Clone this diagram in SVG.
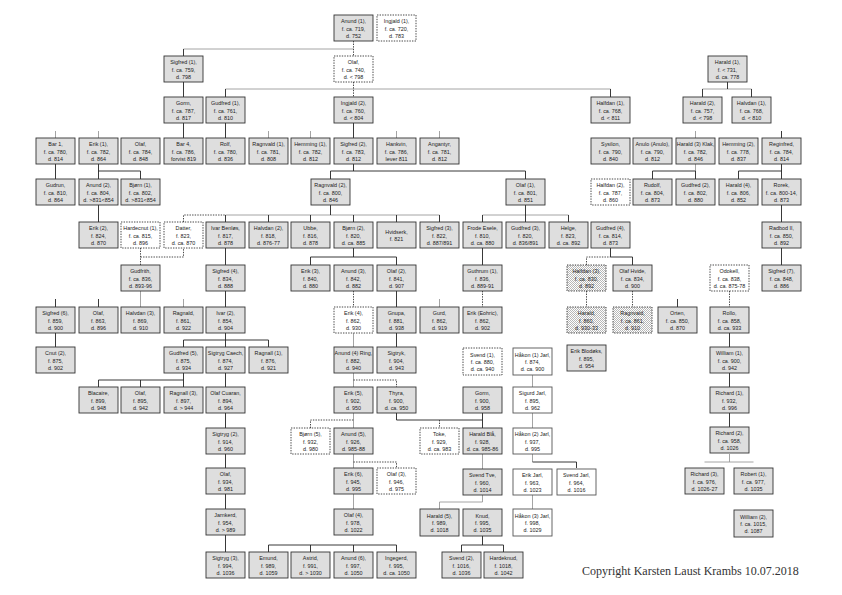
<svg xmlns="http://www.w3.org/2000/svg" width="842" height="595" viewBox="0 0 842 595">
<style>
.g{fill:#dedede;stroke:#333;stroke-width:0.9}
.w{fill:#fff;stroke:#555;stroke-width:0.9}
.d{fill:#fff;stroke:#333;stroke-width:0.9;stroke-dasharray:1.4 1.2}
.h{fill:url(#hatch);stroke:#333;stroke-width:0.9;stroke-dasharray:1.4 1.2}
text{font-family:"Liberation Sans",Arial,sans-serif;font-size:5.4px;text-anchor:middle;fill:#222}
.k{stroke:#222;stroke-width:0.9;fill:none}
.l{stroke:#9a9a9a;stroke-width:0.9;fill:none}
.o{stroke:#333;stroke-width:0.9;fill:none;stroke-dasharray:1.4 1.2}
.cp{font-family:"Liberation Serif","Times New Roman",serif;font-size:12px;text-anchor:start;fill:#333}
</style>
<defs>
<pattern id="hatch" width="2" height="2" patternUnits="userSpaceOnUse"><rect width="2" height="2" fill="#fff"/><rect width="1" height="1" fill="#b8b8b8"/><rect x="1" y="1" width="1" height="1" fill="#b8b8b8"/></pattern>
</defs>
<rect width="842" height="595" fill="#fff"/>
<g id="connectors">
<path class="l" d="M183.5 49H353.5M225.5 89H610.5M702.5 89H751.5M55.5 131V138M98.5 131V138M268.5 131V138M310.5 131V138M396.5 131V138M439.5 131V138M695.5 131V138M695.5 164V171M225.5 215H439.5M482.5 215H568.5M140.5 291V307M183.5 299V307M439.5 299V307M353.5 333V347M353.5 373V387M532.5 375V387M353.5 413V428M532.5 413V428M353.5 454V468M482.5 454V469M532.5 454V462M704.5 462H753.5M729.5 454V462M353.5 494V509M482.5 495V502M439.5 509V502H482.5M532.5 495V509"/>
<path class="k" d="M183.5 49V56M183.5 82V97M183.5 123V138M225.5 89V97M225.5 123V138M353.5 123V138M610.5 89V97M727.5 82V89M702.5 89V97M751.5 89V97M55.5 164V179M98.5 164V179M98.5 171H140.5V179M353.5 164V171M330.5 171H525.5M330.5 171V179M525.5 171V179M781.5 131V138M652.5 179V171H695.5V179M781.5 164V179M738.5 179V171H781.5M781.5 205V222M781.5 248V265M98.5 205V222M330.5 205V215M225.5 215V222M268.5 215V222M310.5 215V222M353.5 215V222M396.5 215V222M439.5 215V222M525.5 205V222M482.5 215V222M568.5 215V222M225.5 248V265M353.5 248V257M310.5 265V257H396.5V265M482.5 248V265M610.5 248V257H632.5V265M55.5 299V307M98.5 299V307M225.5 291V307M396.5 291V307M677.5 299V307M55.5 333V347M225.5 333V340M183.5 347V340H268.5V347M225.5 340V347M396.5 333V347M729.5 333V347M183.5 373V380M98.5 387V380H183.5V387M140.5 380V387M225.5 373V387M729.5 373V387M225.5 413V428M396.5 413V420H482.5M482.5 413V428M729.5 413V427M225.5 454V468M532.5 462H576.5V468M225.5 494V509M225.5 535V552M268.5 552V545H396.5V552M310.5 545V552M353.5 545V552M482.5 535V545M461.5 552V545H503.5V552"/>
<path class="o" d="M353.5 41V56M353.5 82V97M183.5 222V215H225.5M140.5 248V265M140.5 257H183.5V248M353.5 291V307M482.5 291V307M586.5 265V257H610.5M586.5 291V307M632.5 291V307M729.5 291V307M353.5 380H396.5V387M310.5 428V420H353.5M439.5 420V428M353.5 462H396.5V468"/>
</g>
<g id="n-anund1"><rect class="g" x="334" y="15" width="39" height="26"/><text y="23.2"><tspan x="353.5">Anund (1),</tspan><tspan x="353.5" dy="7.4">f. ca. 719,</tspan><tspan x="353.5" dy="7.4">d. 752</tspan></text></g>
<g id="n-ingjald1"><rect class="d" x="377" y="15" width="39" height="26"/><text y="23.2"><tspan x="396.5">Ingjald (1),</tspan><tspan x="396.5" dy="7.4">f. ca. 720,</tspan><tspan x="396.5" dy="7.4">d. 783</tspan></text></g>
<g id="n-sigfred1"><rect class="g" x="164" y="56" width="39" height="26"/><text y="64.2"><tspan x="183.5">Sigfred (1),</tspan><tspan x="183.5" dy="7.4">f. ca. 759,</tspan><tspan x="183.5" dy="7.4">d. 798</tspan></text></g>
<g id="n-olaf0"><rect class="d" x="334" y="56" width="39" height="26"/><text y="64.2"><tspan x="353.5">Olaf,</tspan><tspan x="353.5" dy="7.4">f. ca. 740,</tspan><tspan x="353.5" dy="7.4">d. &lt; 798</tspan></text></g>
<g id="n-harald1"><rect class="g" x="708" y="56" width="39" height="26"/><text y="64.2"><tspan x="727.5">Harald (1),</tspan><tspan x="727.5" dy="7.4">f. &lt; 731,</tspan><tspan x="727.5" dy="7.4">d. ca. 778</tspan></text></g>
<g id="n-gorm0"><rect class="g" x="164" y="97" width="39" height="26"/><text y="105.2"><tspan x="183.5">Gorm,</tspan><tspan x="183.5" dy="7.4">f. ca. 787,</tspan><tspan x="183.5" dy="7.4">d. 817</tspan></text></g>
<g id="n-gudfred1"><rect class="g" x="206" y="97" width="39" height="26"/><text y="105.2"><tspan x="225.5">Gudfred (1),</tspan><tspan x="225.5" dy="7.4">f. ca. 761,</tspan><tspan x="225.5" dy="7.4">d. 810</tspan></text></g>
<g id="n-ingjald2"><rect class="g" x="334" y="97" width="39" height="26"/><text y="105.2"><tspan x="353.5">Ingjald (2),</tspan><tspan x="353.5" dy="7.4">f. ca. 760,</tspan><tspan x="353.5" dy="7.4">d. &lt; 804</tspan></text></g>
<g id="n-halfdan1"><rect class="g" x="591" y="97" width="39" height="26"/><text y="105.2"><tspan x="610.5">Halfdan (1),</tspan><tspan x="610.5" dy="7.4">f. ca. 768,</tspan><tspan x="610.5" dy="7.4">d. &lt; 811</tspan></text></g>
<g id="n-harald2"><rect class="g" x="683" y="97" width="39" height="26"/><text y="105.2"><tspan x="702.5">Harald (2),</tspan><tspan x="702.5" dy="7.4">f. ca. 757,</tspan><tspan x="702.5" dy="7.4">d. &lt; 798</tspan></text></g>
<g id="n-halvdan1"><rect class="g" x="732" y="97" width="39" height="26"/><text y="105.2"><tspan x="751.5">Halvdan (1),</tspan><tspan x="751.5" dy="7.4">f. ca. 768,</tspan><tspan x="751.5" dy="7.4">d. &lt; 810</tspan></text></g>
<g id="n-bar1"><rect class="g" x="36" y="138" width="39" height="26"/><text y="146.2"><tspan x="55.5">Bar 1,</tspan><tspan x="55.5" dy="7.4">f. ca. 780,</tspan><tspan x="55.5" dy="7.4">d. 814</tspan></text></g>
<g id="n-erik1"><rect class="g" x="79" y="138" width="39" height="26"/><text y="146.2"><tspan x="98.5">Erik (1),</tspan><tspan x="98.5" dy="7.4">f. ca. 782,</tspan><tspan x="98.5" dy="7.4">d. 864</tspan></text></g>
<g id="n-olafB"><rect class="g" x="121" y="138" width="39" height="26"/><text y="146.2"><tspan x="140.5">Olaf,</tspan><tspan x="140.5" dy="7.4">f. ca. 784,</tspan><tspan x="140.5" dy="7.4">d. 848</tspan></text></g>
<g id="n-bar4"><rect class="g" x="164" y="138" width="39" height="26"/><text y="146.2"><tspan x="183.5">Bar 4,</tspan><tspan x="183.5" dy="7.4">f. ca. 786,</tspan><tspan x="183.5" dy="7.4">forvist 819</tspan></text></g>
<g id="n-rolf"><rect class="g" x="206" y="138" width="39" height="26"/><text y="146.2"><tspan x="225.5">Rolf,</tspan><tspan x="225.5" dy="7.4">f. ca. 780,</tspan><tspan x="225.5" dy="7.4">d. 836</tspan></text></g>
<g id="n-ragnvald1"><rect class="g" x="249" y="138" width="39" height="26"/><text y="146.2"><tspan x="268.5">Ragnvald (1),</tspan><tspan x="268.5" dy="7.4">f. ca. 781,</tspan><tspan x="268.5" dy="7.4">d. 808</tspan></text></g>
<g id="n-hemming1"><rect class="g" x="291" y="138" width="39" height="26"/><text y="146.2"><tspan x="310.5">Hemming (1),</tspan><tspan x="310.5" dy="7.4">f. ca. 782,</tspan><tspan x="310.5" dy="7.4">d. 812</tspan></text></g>
<g id="n-sigfred2"><rect class="g" x="334" y="138" width="39" height="26"/><text y="146.2"><tspan x="353.5">Sigfred (2),</tspan><tspan x="353.5" dy="7.4">f. ca. 783,</tspan><tspan x="353.5" dy="7.4">d. 812</tspan></text></g>
<g id="n-hankvin"><rect class="g" x="377" y="138" width="39" height="26"/><text y="146.2"><tspan x="396.5">Hankvin,</tspan><tspan x="396.5" dy="7.4">f. ca. 786,</tspan><tspan x="396.5" dy="7.4">lever 811</tspan></text></g>
<g id="n-angantyr"><rect class="g" x="420" y="138" width="39" height="26"/><text y="146.2"><tspan x="439.5">Angantyr,</tspan><tspan x="439.5" dy="7.4">f. ca. 781,</tspan><tspan x="439.5" dy="7.4">d. 812</tspan></text></g>
<g id="n-sysilon"><rect class="g" x="591" y="138" width="39" height="26"/><text y="146.2"><tspan x="610.5">Sysilon,</tspan><tspan x="610.5" dy="7.4">f. ca. 790,</tspan><tspan x="610.5" dy="7.4">d. 840</tspan></text></g>
<g id="n-anulo"><rect class="g" x="633" y="138" width="39" height="26"/><text y="146.2"><tspan x="652.5">Anulo (Anulo),</tspan><tspan x="652.5" dy="7.4">f. ca. 790,</tspan><tspan x="652.5" dy="7.4">d. 812</tspan></text></g>
<g id="n-harald3"><rect class="g" x="676" y="138" width="39" height="26"/><text y="146.2"><tspan x="695.5">Harald (3) Klak,</tspan><tspan x="695.5" dy="7.4">f. ca. 782,</tspan><tspan x="695.5" dy="7.4">d. 846</tspan></text></g>
<g id="n-hemming2"><rect class="g" x="719" y="138" width="39" height="26"/><text y="146.2"><tspan x="738.5">Hemming (2),</tspan><tspan x="738.5" dy="7.4">f. ca. 778,</tspan><tspan x="738.5" dy="7.4">d. 837</tspan></text></g>
<g id="n-reginfred"><rect class="g" x="762" y="138" width="39" height="26"/><text y="146.2"><tspan x="781.5">Reginfred,</tspan><tspan x="781.5" dy="7.4">f. ca. 784,</tspan><tspan x="781.5" dy="7.4">d. 814</tspan></text></g>
<g id="n-gudrun"><rect class="g" x="36" y="179" width="39" height="26"/><text y="187.2"><tspan x="55.5">Gudrun,</tspan><tspan x="55.5" dy="7.4">f. ca. 810,</tspan><tspan x="55.5" dy="7.4">d. 864</tspan></text></g>
<g id="n-anund2"><rect class="g" x="79" y="179" width="39" height="26"/><text y="187.2"><tspan x="98.5">Anund (2),</tspan><tspan x="98.5" dy="7.4">f. ca. 804,</tspan><tspan x="98.5" dy="7.4">d. &gt;831&lt;854</tspan></text></g>
<g id="n-bjorn1"><rect class="g" x="121" y="179" width="39" height="26"/><text y="187.2"><tspan x="140.5">Bjørn (1),</tspan><tspan x="140.5" dy="7.4">f. ca. 802,</tspan><tspan x="140.5" dy="7.4">d. &gt;831&lt;854</tspan></text></g>
<g id="n-ragnvald2"><rect class="g" x="311" y="179" width="39" height="26"/><text y="187.2"><tspan x="330.5">Ragnvald (2),</tspan><tspan x="330.5" dy="7.4">f. ca. 800,</tspan><tspan x="330.5" dy="7.4">d. 846</tspan></text></g>
<g id="n-olaf1"><rect class="g" x="506" y="179" width="39" height="26"/><text y="187.2"><tspan x="525.5">Olaf (1),</tspan><tspan x="525.5" dy="7.4">f. ca. 801,</tspan><tspan x="525.5" dy="7.4">d. 851</tspan></text></g>
<g id="n-halfdan2"><rect class="d" x="591" y="179" width="39" height="26"/><text y="187.2"><tspan x="610.5">Halfdan (2),</tspan><tspan x="610.5" dy="7.4">f. ca. 787,</tspan><tspan x="610.5" dy="7.4">d. 860</tspan></text></g>
<g id="n-rudolf"><rect class="g" x="633" y="179" width="39" height="26"/><text y="187.2"><tspan x="652.5">Rudolf,</tspan><tspan x="652.5" dy="7.4">f. ca. 804,</tspan><tspan x="652.5" dy="7.4">d. 873</tspan></text></g>
<g id="n-gudfred2"><rect class="g" x="676" y="179" width="39" height="26"/><text y="187.2"><tspan x="695.5">Gudfred (2),</tspan><tspan x="695.5" dy="7.4">f. ca. 802,</tspan><tspan x="695.5" dy="7.4">d. 880</tspan></text></g>
<g id="n-harald4"><rect class="g" x="719" y="179" width="39" height="26"/><text y="187.2"><tspan x="738.5">Harald (4),</tspan><tspan x="738.5" dy="7.4">f. ca. 806,</tspan><tspan x="738.5" dy="7.4">d. 852</tspan></text></g>
<g id="n-rorek"><rect class="g" x="762" y="179" width="39" height="26"/><text y="187.2"><tspan x="781.5">Rorek,</tspan><tspan x="781.5" dy="7.4">f. ca. 800-14,</tspan><tspan x="781.5" dy="7.4">d. 873</tspan></text></g>
<g id="n-erik2"><rect class="g" x="79" y="222" width="39" height="26"/><text y="230.2"><tspan x="98.5">Erik (2),</tspan><tspan x="98.5" dy="7.4">f. 824,</tspan><tspan x="98.5" dy="7.4">d. 870</tspan></text></g>
<g id="n-hardecnut1"><rect class="d" x="121" y="222" width="39" height="26"/><text y="230.2"><tspan x="140.5">Hardecnut (1),</tspan><tspan x="140.5" dy="7.4">f. ca. 815,</tspan><tspan x="140.5" dy="7.4">d. 896</tspan></text></g>
<g id="n-datter"><rect class="d" x="164" y="222" width="39" height="26"/><text y="230.2"><tspan x="183.5">Datter,</tspan><tspan x="183.5" dy="7.4">f. 823,</tspan><tspan x="183.5" dy="7.4">d. ca. 870</tspan></text></g>
<g id="n-ivar"><rect class="g" x="206" y="222" width="39" height="26"/><text y="230.2"><tspan x="225.5">Ivar Benløs,</tspan><tspan x="225.5" dy="7.4">f. 817,</tspan><tspan x="225.5" dy="7.4">d. 878</tspan></text></g>
<g id="n-halvdan2"><rect class="g" x="249" y="222" width="39" height="26"/><text y="230.2"><tspan x="268.5">Halvdan (2),</tspan><tspan x="268.5" dy="7.4">f. 818,</tspan><tspan x="268.5" dy="7.4">d. 876-77</tspan></text></g>
<g id="n-ubbe"><rect class="g" x="291" y="222" width="39" height="26"/><text y="230.2"><tspan x="310.5">Ubbe,</tspan><tspan x="310.5" dy="7.4">f. 816,</tspan><tspan x="310.5" dy="7.4">d. 878</tspan></text></g>
<g id="n-bjorn2"><rect class="g" x="334" y="222" width="39" height="26"/><text y="230.2"><tspan x="353.5">Bjørn (2),</tspan><tspan x="353.5" dy="7.4">f. 820,</tspan><tspan x="353.5" dy="7.4">d. ca. 885</tspan></text></g>
<g id="n-hvidserk"><rect class="g" x="377" y="222" width="39" height="26"/><text y="233.5"><tspan x="396.5">Hvidserk,</tspan><tspan x="396.5" dy="7.4">f. 821</tspan></text></g>
<g id="n-sigfred3"><rect class="g" x="420" y="222" width="39" height="26"/><text y="230.2"><tspan x="439.5">Sigfred (3),</tspan><tspan x="439.5" dy="7.4">f. 822,</tspan><tspan x="439.5" dy="7.4">d. 887/891</tspan></text></g>
<g id="n-frode"><rect class="g" x="463" y="222" width="39" height="26"/><text y="230.2"><tspan x="482.5">Frode Esele,</tspan><tspan x="482.5" dy="7.4">f. 810,</tspan><tspan x="482.5" dy="7.4">d. ca. 880</tspan></text></g>
<g id="n-gudfred3"><rect class="g" x="506" y="222" width="39" height="26"/><text y="230.2"><tspan x="525.5">Gudfred (3),</tspan><tspan x="525.5" dy="7.4">f. 820,</tspan><tspan x="525.5" dy="7.4">d. 836/891</tspan></text></g>
<g id="n-helge"><rect class="g" x="549" y="222" width="39" height="26"/><text y="230.2"><tspan x="568.5">Helge,</tspan><tspan x="568.5" dy="7.4">f. 823,</tspan><tspan x="568.5" dy="7.4">d. ca. 892</tspan></text></g>
<g id="n-gudfred4"><rect class="g" x="591" y="222" width="39" height="26"/><text y="230.2"><tspan x="610.5">Gudfred (4),</tspan><tspan x="610.5" dy="7.4">f. ca. 814,</tspan><tspan x="610.5" dy="7.4">d. 873</tspan></text></g>
<g id="n-radbod"><rect class="g" x="762" y="222" width="39" height="26"/><text y="230.2"><tspan x="781.5">Radbod II,</tspan><tspan x="781.5" dy="7.4">f. ca. 850,</tspan><tspan x="781.5" dy="7.4">d. 892</tspan></text></g>
<g id="n-gudfrith"><rect class="g" x="121" y="265" width="39" height="26"/><text y="273.2"><tspan x="140.5">Gudfrith,</tspan><tspan x="140.5" dy="7.4">f. ca. 836,</tspan><tspan x="140.5" dy="7.4">d. 893-96</tspan></text></g>
<g id="n-sigfred4"><rect class="g" x="206" y="265" width="39" height="26"/><text y="273.2"><tspan x="225.5">Sigfred (4),</tspan><tspan x="225.5" dy="7.4">f. 834,</tspan><tspan x="225.5" dy="7.4">d. 888</tspan></text></g>
<g id="n-erik3"><rect class="g" x="291" y="265" width="39" height="26"/><text y="273.2"><tspan x="310.5">Erik (3),</tspan><tspan x="310.5" dy="7.4">f. 840,</tspan><tspan x="310.5" dy="7.4">d. 880</tspan></text></g>
<g id="n-anund3"><rect class="g" x="334" y="265" width="39" height="26"/><text y="273.2"><tspan x="353.5">Anund (3),</tspan><tspan x="353.5" dy="7.4">f. 842,</tspan><tspan x="353.5" dy="7.4">d. 882</tspan></text></g>
<g id="n-olaf2"><rect class="g" x="377" y="265" width="39" height="26"/><text y="273.2"><tspan x="396.5">Olaf (2),</tspan><tspan x="396.5" dy="7.4">f. 841,</tspan><tspan x="396.5" dy="7.4">d. 907</tspan></text></g>
<g id="n-guthrum"><rect class="g" x="463" y="265" width="39" height="26"/><text y="273.2"><tspan x="482.5">Guthrum (1),</tspan><tspan x="482.5" dy="7.4">f. 836,</tspan><tspan x="482.5" dy="7.4">d. 889-91</tspan></text></g>
<g id="n-halfdan3"><rect class="h" x="567" y="265" width="39" height="26"/><text y="273.2"><tspan x="586.5">Halfdan (3),</tspan><tspan x="586.5" dy="7.4">f. ca. 830,</tspan><tspan x="586.5" dy="7.4">d. 892</tspan></text></g>
<g id="n-olafhvide"><rect class="g" x="613" y="265" width="39" height="26"/><text y="273.2"><tspan x="632.5">Olaf Hvide,</tspan><tspan x="632.5" dy="7.4">f. ca. 834,</tspan><tspan x="632.5" dy="7.4">d. 900</tspan></text></g>
<g id="n-odokell"><rect class="d" x="710" y="265" width="39" height="26"/><text y="273.2"><tspan x="729.5">Odokell,</tspan><tspan x="729.5" dy="7.4">f. ca. 838,</tspan><tspan x="729.5" dy="7.4">d. ca. 875-78</tspan></text></g>
<g id="n-sigfred7"><rect class="g" x="762" y="265" width="39" height="26"/><text y="273.2"><tspan x="781.5">Sigfred (7),</tspan><tspan x="781.5" dy="7.4">f. ca. 848,</tspan><tspan x="781.5" dy="7.4">d. 886</tspan></text></g>
<g id="n-sigfred6"><rect class="g" x="36" y="307" width="39" height="26"/><text y="315.2"><tspan x="55.5">Sigfred (6),</tspan><tspan x="55.5" dy="7.4">f. 859,</tspan><tspan x="55.5" dy="7.4">d. 900</tspan></text></g>
<g id="n-olafC"><rect class="g" x="79" y="307" width="39" height="26"/><text y="315.2"><tspan x="98.5">Olaf,</tspan><tspan x="98.5" dy="7.4">f. 863,</tspan><tspan x="98.5" dy="7.4">d. 896</tspan></text></g>
<g id="n-halvdan3"><rect class="g" x="121" y="307" width="39" height="26"/><text y="315.2"><tspan x="140.5">Halvdan (3),</tspan><tspan x="140.5" dy="7.4">f. 869,</tspan><tspan x="140.5" dy="7.4">d. 910</tspan></text></g>
<g id="n-ragnald"><rect class="g" x="164" y="307" width="39" height="26"/><text y="315.2"><tspan x="183.5">Ragnald,</tspan><tspan x="183.5" dy="7.4">f. 861,</tspan><tspan x="183.5" dy="7.4">d. 922</tspan></text></g>
<g id="n-ivar2"><rect class="g" x="206" y="307" width="39" height="26"/><text y="315.2"><tspan x="225.5">Ivar (2),</tspan><tspan x="225.5" dy="7.4">f. 854,</tspan><tspan x="225.5" dy="7.4">d. 904</tspan></text></g>
<g id="n-erik4"><rect class="d" x="334" y="307" width="39" height="26"/><text y="315.2"><tspan x="353.5">Erik (4),</tspan><tspan x="353.5" dy="7.4">f. 862,</tspan><tspan x="353.5" dy="7.4">d. 930</tspan></text></g>
<g id="n-gnupa"><rect class="g" x="377" y="307" width="39" height="26"/><text y="315.2"><tspan x="396.5">Gnupa,</tspan><tspan x="396.5" dy="7.4">f. 881,</tspan><tspan x="396.5" dy="7.4">d. 938</tspan></text></g>
<g id="n-gurd"><rect class="g" x="420" y="307" width="39" height="26"/><text y="315.2"><tspan x="439.5">Gurd,</tspan><tspan x="439.5" dy="7.4">f. 862,</tspan><tspan x="439.5" dy="7.4">d. 919</tspan></text></g>
<g id="n-eohric"><rect class="g" x="463" y="307" width="39" height="26"/><text y="315.2"><tspan x="482.5">Erik (Eohric),</tspan><tspan x="482.5" dy="7.4">f. 862,</tspan><tspan x="482.5" dy="7.4">d. 902</tspan></text></g>
<g id="n-haraldH"><rect class="h" x="567" y="307" width="39" height="26"/><text y="315.2"><tspan x="586.5">Harald,</tspan><tspan x="586.5" dy="7.4">f. 860,</tspan><tspan x="586.5" dy="7.4">d. 930-33</tspan></text></g>
<g id="n-ragnvaldH"><rect class="h" x="613" y="307" width="39" height="26"/><text y="315.2"><tspan x="632.5">Ragnvald,</tspan><tspan x="632.5" dy="7.4">f. ca. 861,</tspan><tspan x="632.5" dy="7.4">d. 910</tspan></text></g>
<g id="n-orten"><rect class="g" x="658" y="307" width="39" height="26"/><text y="315.2"><tspan x="677.5">Orten,</tspan><tspan x="677.5" dy="7.4">f. ca. 850,</tspan><tspan x="677.5" dy="7.4">d. 870</tspan></text></g>
<g id="n-rollo"><rect class="g" x="710" y="307" width="39" height="26"/><text y="315.2"><tspan x="729.5">Rollo,</tspan><tspan x="729.5" dy="7.4">f. ca. 858,</tspan><tspan x="729.5" dy="7.4">d. ca. 933</tspan></text></g>
<g id="n-cnut2"><rect class="g" x="36" y="347" width="39" height="26"/><text y="355.2"><tspan x="55.5">Cnut (2),</tspan><tspan x="55.5" dy="7.4">f. 875,</tspan><tspan x="55.5" dy="7.4">d. 902</tspan></text></g>
<g id="n-gudfred5"><rect class="g" x="164" y="347" width="39" height="26"/><text y="355.2"><tspan x="183.5">Gudfred (5),</tspan><tspan x="183.5" dy="7.4">f. 875,</tspan><tspan x="183.5" dy="7.4">d. 934</tspan></text></g>
<g id="n-sigtrygC"><rect class="g" x="206" y="347" width="39" height="26"/><text y="355.2"><tspan x="225.5">Sigtryg Caech,</tspan><tspan x="225.5" dy="7.4">f. 874,</tspan><tspan x="225.5" dy="7.4">d. 927</tspan></text></g>
<g id="n-ragnall1"><rect class="g" x="249" y="347" width="39" height="26"/><text y="355.2"><tspan x="268.5">Ragnall (1),</tspan><tspan x="268.5" dy="7.4">f. 876,</tspan><tspan x="268.5" dy="7.4">d. 921</tspan></text></g>
<g id="n-anund4"><rect class="g" x="334" y="347" width="39" height="26"/><text y="355.2"><tspan x="353.5">Anund (4) Ring,</tspan><tspan x="353.5" dy="7.4">f. 882,</tspan><tspan x="353.5" dy="7.4">d. 940</tspan></text></g>
<g id="n-sigtryk"><rect class="g" x="377" y="347" width="39" height="26"/><text y="355.2"><tspan x="396.5">Sigtryk,</tspan><tspan x="396.5" dy="7.4">f. 904,</tspan><tspan x="396.5" dy="7.4">d. 943</tspan></text></g>
<g id="n-svend1"><rect class="d" x="463" y="348" width="39" height="27"/><text y="356.5"><tspan x="482.5">Svend (1),</tspan><tspan x="482.5" dy="7.4">f. ca. 880,</tspan><tspan x="482.5" dy="7.4">d. ca. 940</tspan></text></g>
<g id="n-hakon1"><rect class="w" x="513" y="348" width="39" height="27"/><text y="356.5"><tspan x="532.5">Håkon (1) Jarl,</tspan><tspan x="532.5" dy="7.4">f. 874,</tspan><tspan x="532.5" dy="7.4">d. ca. 900</tspan></text></g>
<g id="n-erikblod"><rect class="g" x="567" y="345" width="39" height="26"/><text y="353.2"><tspan x="586.5">Erik Blodøks,</tspan><tspan x="586.5" dy="7.4">f. 895,</tspan><tspan x="586.5" dy="7.4">d. 954</tspan></text></g>
<g id="n-william1"><rect class="g" x="710" y="347" width="39" height="26"/><text y="355.2"><tspan x="729.5">William (1),</tspan><tspan x="729.5" dy="7.4">f. ca. 900,</tspan><tspan x="729.5" dy="7.4">d. 942</tspan></text></g>
<g id="n-blacaire"><rect class="g" x="79" y="387" width="39" height="26"/><text y="395.2"><tspan x="98.5">Blacaire,</tspan><tspan x="98.5" dy="7.4">f. 899,</tspan><tspan x="98.5" dy="7.4">d. 948</tspan></text></g>
<g id="n-olafD"><rect class="g" x="121" y="387" width="39" height="26"/><text y="395.2"><tspan x="140.5">Olaf,</tspan><tspan x="140.5" dy="7.4">f. 895,</tspan><tspan x="140.5" dy="7.4">d. 942</tspan></text></g>
<g id="n-ragnall3"><rect class="g" x="164" y="387" width="39" height="26"/><text y="395.2"><tspan x="183.5">Ragnall (3),</tspan><tspan x="183.5" dy="7.4">f. 897,</tspan><tspan x="183.5" dy="7.4">d. &gt; 944</tspan></text></g>
<g id="n-olafcuaran"><rect class="g" x="206" y="387" width="39" height="26"/><text y="395.2"><tspan x="225.5">Olaf Cuaran,</tspan><tspan x="225.5" dy="7.4">f. 894,</tspan><tspan x="225.5" dy="7.4">d. 964</tspan></text></g>
<g id="n-erik5"><rect class="g" x="334" y="387" width="39" height="26"/><text y="395.2"><tspan x="353.5">Erik (5),</tspan><tspan x="353.5" dy="7.4">f. 902,</tspan><tspan x="353.5" dy="7.4">d. 950</tspan></text></g>
<g id="n-thyra"><rect class="g" x="377" y="387" width="39" height="26"/><text y="395.2"><tspan x="396.5">Thyra,</tspan><tspan x="396.5" dy="7.4">f. 900,</tspan><tspan x="396.5" dy="7.4">d. ca. 950</tspan></text></g>
<g id="n-gormG"><rect class="g" x="463" y="387" width="39" height="26"/><text y="395.2"><tspan x="482.5">Gorm,</tspan><tspan x="482.5" dy="7.4">f. 900,</tspan><tspan x="482.5" dy="7.4">d. 958</tspan></text></g>
<g id="n-sigurd"><rect class="w" x="513" y="387" width="39" height="26"/><text y="395.2"><tspan x="532.5">Sigurd Jarl,</tspan><tspan x="532.5" dy="7.4">f. 895,</tspan><tspan x="532.5" dy="7.4">d. 962</tspan></text></g>
<g id="n-richard1"><rect class="g" x="710" y="387" width="39" height="26"/><text y="395.2"><tspan x="729.5">Richard (1),</tspan><tspan x="729.5" dy="7.4">f. 932,</tspan><tspan x="729.5" dy="7.4">d. 996</tspan></text></g>
<g id="n-sigtryg2"><rect class="g" x="206" y="428" width="39" height="26"/><text y="436.2"><tspan x="225.5">Sigtryg (2),</tspan><tspan x="225.5" dy="7.4">f. 914,</tspan><tspan x="225.5" dy="7.4">d. 960</tspan></text></g>
<g id="n-bjorn5"><rect class="d" x="291" y="428" width="39" height="26"/><text y="436.2"><tspan x="310.5">Bjørn (5),</tspan><tspan x="310.5" dy="7.4">f. 932,</tspan><tspan x="310.5" dy="7.4">d. 980</tspan></text></g>
<g id="n-anund5"><rect class="g" x="334" y="428" width="39" height="26"/><text y="436.2"><tspan x="353.5">Anund (5),</tspan><tspan x="353.5" dy="7.4">f. 926,</tspan><tspan x="353.5" dy="7.4">d. 985-88</tspan></text></g>
<g id="n-toke"><rect class="d" x="420" y="428" width="39" height="26"/><text y="436.2"><tspan x="439.5">Toke,</tspan><tspan x="439.5" dy="7.4">f. 929,</tspan><tspan x="439.5" dy="7.4">d. ca. 983</tspan></text></g>
<g id="n-haraldbla"><rect class="g" x="463" y="428" width="39" height="26"/><text y="436.2"><tspan x="482.5">Harald Blå,</tspan><tspan x="482.5" dy="7.4">f. 928,</tspan><tspan x="482.5" dy="7.4">d. ca. 985-86</tspan></text></g>
<g id="n-hakon2"><rect class="w" x="513" y="428" width="39" height="26"/><text y="436.2"><tspan x="532.5">Håkon (2) Jarl,</tspan><tspan x="532.5" dy="7.4">f. 937,</tspan><tspan x="532.5" dy="7.4">d. 995</tspan></text></g>
<g id="n-richard2"><rect class="g" x="710" y="427" width="39" height="26"/><text y="435.2"><tspan x="729.5">Richard (2),</tspan><tspan x="729.5" dy="7.4">f. ca. 958,</tspan><tspan x="729.5" dy="7.4">d. 1026</tspan></text></g>
<g id="n-olafE"><rect class="g" x="206" y="468" width="39" height="26"/><text y="476.2"><tspan x="225.5">Olaf,</tspan><tspan x="225.5" dy="7.4">f. 934,</tspan><tspan x="225.5" dy="7.4">d. 981</tspan></text></g>
<g id="n-erik6"><rect class="g" x="334" y="468" width="39" height="26"/><text y="476.2"><tspan x="353.5">Erik (6),</tspan><tspan x="353.5" dy="7.4">f. 945,</tspan><tspan x="353.5" dy="7.4">d. 995</tspan></text></g>
<g id="n-olaf3"><rect class="d" x="377" y="468" width="39" height="26"/><text y="476.2"><tspan x="396.5">Olaf (3),</tspan><tspan x="396.5" dy="7.4">f. 946,</tspan><tspan x="396.5" dy="7.4">d. 975</tspan></text></g>
<g id="n-svendtve"><rect class="g" x="463" y="469" width="39" height="26"/><text y="477.2"><tspan x="482.5">Svend Tve,</tspan><tspan x="482.5" dy="7.4">f. 960,</tspan><tspan x="482.5" dy="7.4">d. 1014</tspan></text></g>
<g id="n-erikjarl"><rect class="w" x="513" y="469" width="39" height="26"/><text y="477.2"><tspan x="532.5">Erik Jarl,</tspan><tspan x="532.5" dy="7.4">f. 963,</tspan><tspan x="532.5" dy="7.4">d. 1023</tspan></text></g>
<g id="n-svendjarl"><rect class="w" x="557" y="469" width="39" height="26"/><text y="477.2"><tspan x="576.5">Svend Jarl,</tspan><tspan x="576.5" dy="7.4">f. 964,</tspan><tspan x="576.5" dy="7.4">d. 1016</tspan></text></g>
<g id="n-richard3"><rect class="g" x="685" y="468" width="39" height="26"/><text y="476.2"><tspan x="704.5">Richard (3),</tspan><tspan x="704.5" dy="7.4">f. ca. 976,</tspan><tspan x="704.5" dy="7.4">d. 1026-27</tspan></text></g>
<g id="n-robert1"><rect class="g" x="734" y="468" width="39" height="26"/><text y="476.2"><tspan x="753.5">Robert (1),</tspan><tspan x="753.5" dy="7.4">f. ca. 977,</tspan><tspan x="753.5" dy="7.4">d. 1035</tspan></text></g>
<g id="n-jarnkerd"><rect class="g" x="206" y="509" width="39" height="26"/><text y="517.2"><tspan x="225.5">Jarnkerd,</tspan><tspan x="225.5" dy="7.4">f. 954,</tspan><tspan x="225.5" dy="7.4">d. &gt; 989</tspan></text></g>
<g id="n-olaf4"><rect class="g" x="334" y="509" width="39" height="26"/><text y="517.2"><tspan x="353.5">Olaf (4),</tspan><tspan x="353.5" dy="7.4">f. 978,</tspan><tspan x="353.5" dy="7.4">d. 1022</tspan></text></g>
<g id="n-harald5"><rect class="g" x="420" y="509" width="39" height="27"/><text y="517.5"><tspan x="439.5">Harald (5),</tspan><tspan x="439.5" dy="7.4">f. 989,</tspan><tspan x="439.5" dy="7.4">d. 1018</tspan></text></g>
<g id="n-knud"><rect class="g" x="463" y="509" width="39" height="27"/><text y="517.5"><tspan x="482.5">Knud,</tspan><tspan x="482.5" dy="7.4">f. 995,</tspan><tspan x="482.5" dy="7.4">d. 1035</tspan></text></g>
<g id="n-hakon3"><rect class="w" x="513" y="509" width="39" height="27"/><text y="517.5"><tspan x="532.5">Håkon (3) Jarl,</tspan><tspan x="532.5" dy="7.4">f. 998,</tspan><tspan x="532.5" dy="7.4">d. 1029</tspan></text></g>
<g id="n-william2"><rect class="g" x="734" y="510" width="39" height="27"/><text y="518.5"><tspan x="753.5">William (2),</tspan><tspan x="753.5" dy="7.4">f. ca. 1015,</tspan><tspan x="753.5" dy="7.4">d. 1087</tspan></text></g>
<g id="n-sigtryg3"><rect class="g" x="206" y="552" width="39" height="26"/><text y="560.2"><tspan x="225.5">Sigtryg (3),</tspan><tspan x="225.5" dy="7.4">f. 994,</tspan><tspan x="225.5" dy="7.4">d. 1036</tspan></text></g>
<g id="n-emund"><rect class="g" x="249" y="552" width="39" height="26"/><text y="560.2"><tspan x="268.5">Emund,</tspan><tspan x="268.5" dy="7.4">f. 989,</tspan><tspan x="268.5" dy="7.4">d. 1059</tspan></text></g>
<g id="n-astrid"><rect class="g" x="291" y="552" width="39" height="26"/><text y="560.2"><tspan x="310.5">Astrid,</tspan><tspan x="310.5" dy="7.4">f. 991,</tspan><tspan x="310.5" dy="7.4">d. &gt; 1030</tspan></text></g>
<g id="n-anund6"><rect class="g" x="334" y="552" width="39" height="26"/><text y="560.2"><tspan x="353.5">Anund (6),</tspan><tspan x="353.5" dy="7.4">f. 997,</tspan><tspan x="353.5" dy="7.4">d. 1050</tspan></text></g>
<g id="n-ingegerd"><rect class="g" x="377" y="552" width="39" height="26"/><text y="560.2"><tspan x="396.5">Ingegerd,</tspan><tspan x="396.5" dy="7.4">f. 995,</tspan><tspan x="396.5" dy="7.4">d. ca. 1050</tspan></text></g>
<g id="n-svend2"><rect class="g" x="442" y="552" width="39" height="26"/><text y="560.2"><tspan x="461.5">Svend (2),</tspan><tspan x="461.5" dy="7.4">f. 1016,</tspan><tspan x="461.5" dy="7.4">d. 1036</tspan></text></g>
<g id="n-hardeknud"><rect class="g" x="484" y="552" width="39" height="26"/><text y="560.2"><tspan x="503.5">Hardeknud,</tspan><tspan x="503.5" dy="7.4">f. 1018,</tspan><tspan x="503.5" dy="7.4">d. 1042</tspan></text></g>
<text class="cp" x="582" y="575">Copyright Karsten Laust Krambs 10.07.2018</text>
</svg>
